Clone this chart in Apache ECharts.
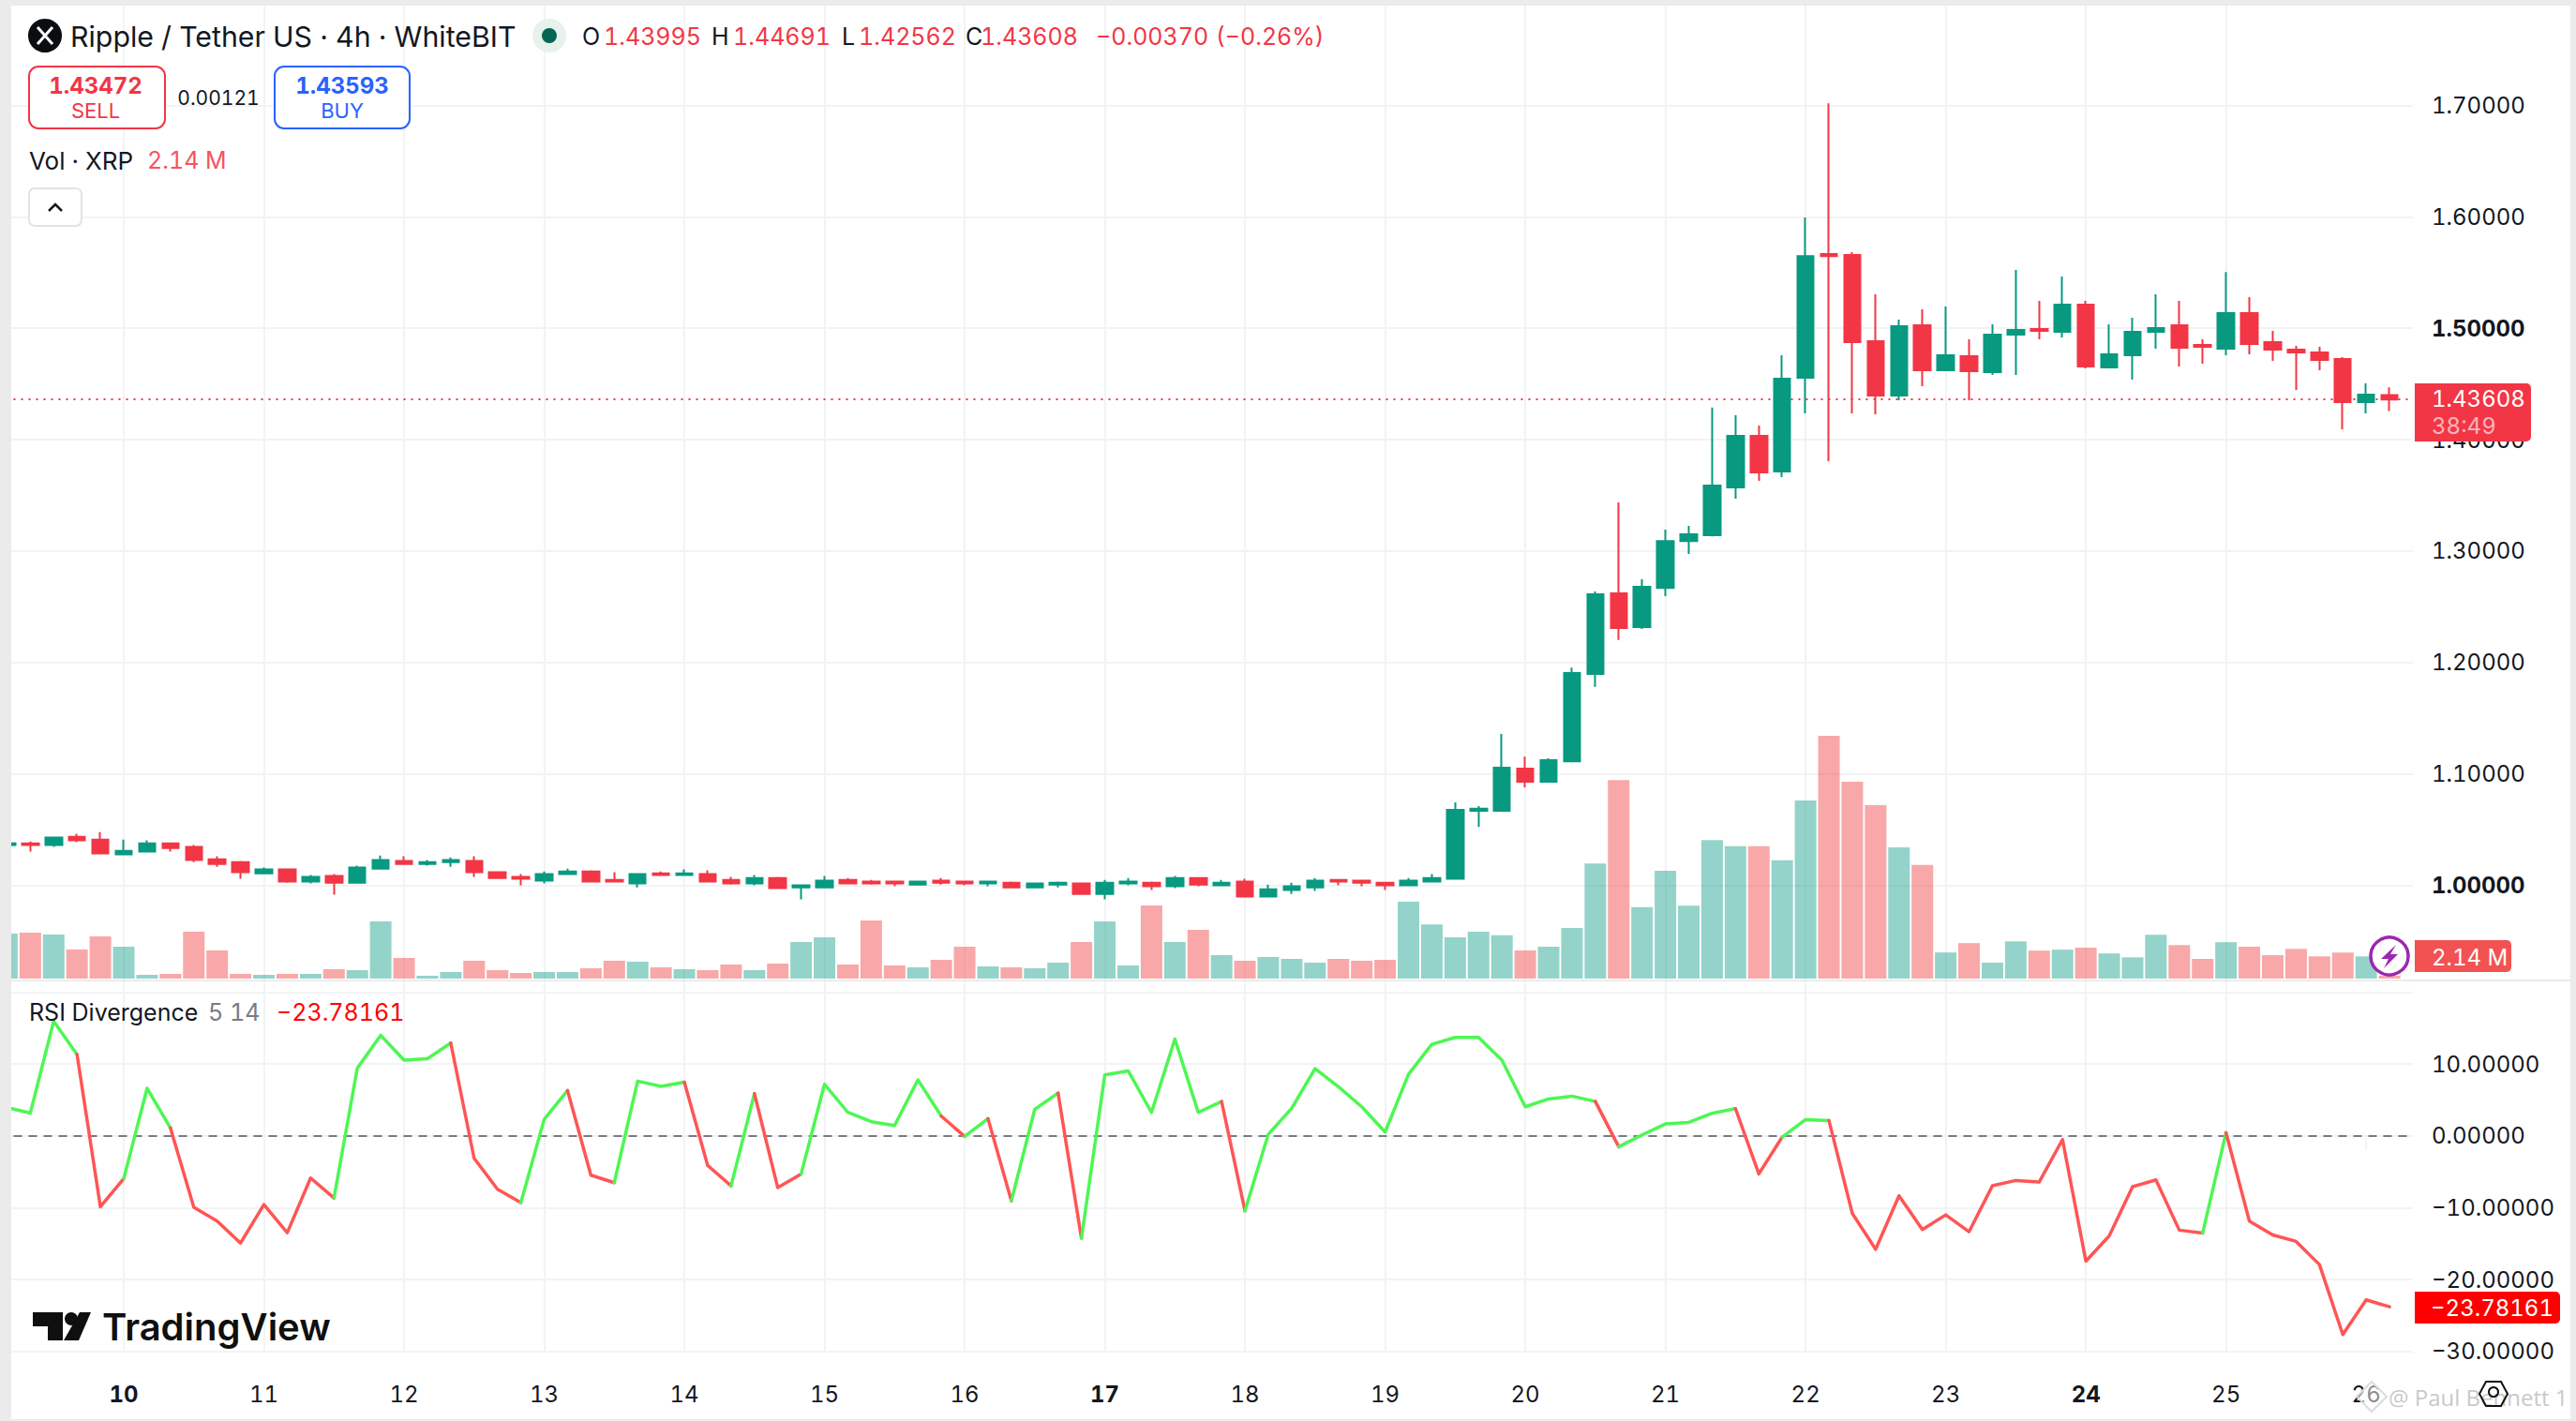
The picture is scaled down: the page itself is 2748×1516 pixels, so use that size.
<!DOCTYPE html>
<html>
<head>
<meta charset="utf-8">
<style>html,body{margin:0;padding:0;background:#fff;overflow:hidden}#c{width:2748px;height:1516px}#c text{font-variant-numeric:tabular-nums !important;font-feature-settings:'tnum' 1 !important}</style>
<script src="https://cdn.jsdelivr.net/npm/echarts@6/dist/echarts.min.js"></script>
</head>
<body>
<div id="c"></div>
<script>
// 4h candles, first one at 9th 04:00
const opens = [
1.0362,1.0378,1.0362,1.0437,1.0412,1.0278,1.0303,1.0378,1.0345,1.0235,
1.0210,1.0109,1.0143,1.0034,1.0084,1.0025,1.0151,1.0219,1.0193,1.0210,
1.0219,1.0118,1.0076,1.0042,1.0101,1.0126,1.0050,1.0017,1.0109,1.0093,
1.0101,1.0050,1.0017,1.0067,0.9983,0.9983,1.0050,1.0034,1.0034,1.0008,
1.0042,1.0034,1.0017,1.0025,0.9983,1.0008,1.0017,0.9924,1.0017,1.0025,
0.9992,1.0067,1.0000,1.0034,0.9899,0.9958,0.9983,1.0050,1.0042,1.0025,
1.0000,1.0034,1.0060,1.0670,1.0670,1.1048,1.0931,1.1114,1.1898,1.2622,
1.2319,1.2670,1.3091,1.3142,1.3571,1.4034,1.3714,1.4555,1.5665,1.5657,
1.4883,1.4395,1.5026,1.4622,1.4749,1.4606,1.4942,1.4992,1.4967,1.5211,
1.4648,1.4757,1.4967,1.5026,1.4850,1.4816,1.5135,1.4875,1.4807,1.4782,
1.4723,1.4336,1.43995];
const closes = [
1.0378,1.0362,1.0429,1.0404,1.0286,1.0311,1.0378,1.0336,1.0227,1.0193,
1.0118,1.0143,1.0034,1.0076,1.0025,1.0160,1.0227,1.0193,1.0210,1.0227,
1.0118,1.0067,1.0059,1.0101,1.0126,1.0034,1.0034,1.0101,1.0093,1.0109,
1.0034,1.0017,1.0067,0.9975,1.0000,1.0042,1.0017,1.0017,1.0017,1.0034,
1.0025,1.0017,1.0034,0.9983,1.0017,1.0025,0.9924,1.0025,1.0034,0.9992,
1.0067,1.0008,1.0025,0.9899,0.9966,0.9992,1.0042,1.0034,1.0025,1.0000,
1.0042,1.0067,1.0679,1.0688,1.1057,1.0931,1.1123,1.1907,1.2613,1.2310,
1.2679,1.3091,1.3151,1.3589,1.4034,1.3706,1.4547,1.5648,1.5648,1.4875,
1.4395,1.5018,1.4622,1.4757,1.4614,1.4942,1.4984,1.4976,1.5211,1.4656,
1.4765,1.4967,1.5001,1.4824,1.4833,1.5135,1.4858,1.4807,1.4782,1.4715,
1.4336,1.4404,1.43608];
const lows = [
1.0362,1.0303,1.0345,1.0387,1.0286,1.0278,1.0303,1.0303,1.0210,1.0168,
1.0059,1.0101,1.0025,1.0017,0.9916,1.0017,1.0151,1.0193,1.0177,1.0168,
1.0076,1.0059,1.0000,1.0017,1.0093,1.0034,1.0034,0.9983,1.0084,1.0093,
1.0034,1.0008,1.0000,0.9975,0.9874,0.9975,1.0017,1.0008,0.9992,1.0000,
1.0008,1.0000,0.9992,0.9975,0.9983,0.9983,0.9916,0.9874,1.0000,0.9958,
0.9975,0.9992,0.9992,0.9891,0.9899,0.9924,0.9950,1.0000,0.9992,0.9958,
0.9992,1.0034,1.0060,1.0525,1.0670,1.0880,1.0931,1.1114,1.1781,1.2202,
1.2301,1.2595,1.2974,1.3133,1.3470,1.3630,1.3664,1.4235,1.3807,1.4235,
1.4227,1.4353,1.4479,1.4622,1.4353,1.4580,1.4580,1.4900,1.4917,1.4639,
1.4648,1.4538,1.4816,1.4656,1.4681,1.4757,1.4765,1.4706,1.4446,1.4622,
1.4093,1.4235,1.42562];
const highs = [
1.0378,1.0395,1.0437,1.0463,1.0479,1.0412,1.0404,1.0378,1.0362,1.0261,
1.0219,1.0160,1.0151,1.0093,1.0101,1.0177,1.0269,1.0261,1.0227,1.0252,
1.0261,1.0126,1.0101,1.0126,1.0151,1.0135,1.0118,1.0101,1.0126,1.0143,
1.0135,1.0076,1.0093,1.0076,1.0008,1.0084,1.0067,1.0050,1.0034,1.0042,
1.0067,1.0042,1.0034,1.0034,1.0017,1.0034,1.0025,1.0050,1.0067,1.0034,
1.0084,1.0067,1.0050,1.0059,1.0008,1.0025,1.0067,1.0050,1.0042,1.0025,
1.0067,1.0101,1.0745,1.0712,1.1360,1.1156,1.1141,1.1955,1.2637,1.3436,
1.2748,1.3193,1.3226,1.4289,1.4219,1.4126,1.4757,1.5993,1.7019,1.5682,
1.5304,1.5077,1.5169,1.5194,1.4900,1.5034,1.5522,1.5245,1.5463,1.5245,
1.5034,1.5093,1.5304,1.5245,1.4900,1.5505,1.5278,1.4976,1.4841,1.4833,
1.4740,1.4505,1.44691];
// volume in millions of XRP
const volumes = [
33.6,34.3,32.9,21.7,31.5,23.8,2.8,3.5,35.0,21.0,
3.5,2.8,3.5,3.5,7.0,6.3,42.7,15.4,2.1,4.9,
13.3,6.3,4.2,4.9,4.9,7.7,13.3,12.6,8.4,7.0,
6.3,10.5,6.3,11.2,27.3,30.8,10.5,43.4,9.8,8.4,
14.0,23.8,9.1,8.4,7.7,11.9,27.3,42.7,9.8,54.6,
27.3,36.4,17.5,13.3,16.1,14.7,11.9,14.7,13.3,14.0,
57.4,40.5,30.8,35.0,32.3,21.0,23.8,37.8,86.0,148.3,
53.3,80.5,54.5,103.5,98.8,98.8,88.3,133.0,181.3,147.0,
129.5,98.0,84.8,19.5,26.5,11.9,27.8,20.9,21.6,23.1,
18.8,15.9,32.8,25.0,14.7,27.2,23.8,17.5,22.2,16.6,
19.4,16.6,2.14];
const rsi = [
3.95,3.17,15.95,11.30,-9.87,-5.95,6.61,1.09,-9.95,-11.86,
-14.91,-9.56,-13.47,-5.87,-8.65,9.43,13.99,10.52,10.73,12.91,
-3.13,-7.43,-9.30,2.30,6.30,-5.48,-6.52,7.61,6.87,7.47,
-4.13,-6.95,5.87,-7.21,-5.30,7.17,3.26,1.96,1.43,7.78,
2.74,-0.09,2.39,-9.04,3.69,5.95,-14.25,8.47,9.04,3.26,
13.47,3.26,4.78,-10.43,0.22,3.82,9.34,6.82,4.04,0.52,
8.56,12.73,13.69,13.69,10.52,4.04,5.13,5.52,4.78,-1.52,
0.13,1.65,1.87,3.13,3.78,-5.30,-0.17,2.26,2.13,-10.78,
-15.78,-8.34,-13.04,-11.00,-13.34,-6.95,-6.21,-6.43,-0.52,-17.43,
-13.91,-7.08,-6.13,-13.12,-13.52,0.43,-11.86,-13.78,-14.69,-17.91,
-27.64,-22.82,-23.78161];
const lastPrice = 1.43608;
const boldDays = [10,17,24];
const boldPrices = ['1.00000','1.50000'];
const hiddenPriceTicks = ['0.90000','1.80000'];
const firstDay = 9;
const candlesPerDay = 6;

const GREEN='#089981', RED='#f23645', VOLG='rgba(8,153,129,0.43)', VOLR='rgba(242,82,82,0.5)';
const GRID='#f2f3f4', INK='#131722', FONT='Inter, "Noto Sans", sans-serif';
const LINEG='#4df753', LINER='#ff5555';

// category axis: 9th 00:00 ... 26th 08:00, one slot before and after the candles
const categories = [];
for (let i = 0; i < opens.length + 2; i++) {
  const d = firstDay + Math.floor(i / candlesPerDay), h = (i % candlesPerDay) * 4;
  categories.push(d + ' ' + String(h).padStart(2,'0') + ':00');
}
const isDay = (i) => i % candlesPerDay === 0;
const pad = (a) => [null].concat(a, [null]);

const candleData = [['-','-','-','-']]
  .concat(opens.map((o,i)=>[o,closes[i],lows[i],highs[i]]))
  .concat([['-','-','-','-']]);
const volData = pad(volumes.map((v,i)=>({
  value:v, itemStyle:{color: closes[i]>=opens[i] ? VOLG : VOLR}
})));

// RSI line: a segment is green if it ends at or above zero, red otherwise
const rsiRuns = [];
(function(){
  let start = 0;
  const col = (i)=> rsi[i] >= 0 ? LINEG : LINER;
  for (let i = 1; i < rsi.length; i++) {
    if (i === rsi.length-1 || col(i+1) !== col(i)) {
      const d = new Array(categories.length).fill(null);
      for (let k = start; k <= i; k++) d[k+1] = rsi[k];
      rsiRuns.push({type:'line', xAxisIndex:2, yAxisIndex:2, data:d, showSymbol:false, symbol:'none',
        lineStyle:{color:col(i), width:3.5, join:'round', cap:'round'}, z:3, silent:true, connectNulls:false});
      start = i;
    }
  }
})();

const L=-17.5, W=2591.5;
function xAxis(gridIndex, showLabel){
  return {type:'category', gridIndex, data:categories, boundaryGap:false,
    axisLine:{show:false},
    axisTick:{show:showLabel, interval:(i)=>isDay(i), length:15, lineStyle:{color:GRID,width:2}},
    splitLine:{show:gridIndex!==1, interval:(i)=>isDay(i), lineStyle:{color:GRID,width:2}, showMinLine:false, showMaxLine:false},
    axisLabel:{show:showLabel, margin:34, fontSize:24, fontFamily:FONT, color:INK, interval:(i)=>isDay(i),
      formatter:(v,i)=>{ if(i===0) return ''; const d=v.split(' ')[0]; return boldDays.includes(+d)?'{b|'+d+'}':d; },
      rich:{b:{fontWeight:'bold',fontSize:24,fontFamily:FONT,color:INK}}}};
}
const R=[];
function t(text,x,y,size,fill,extra){
  R.push({type:'text',z:100,style:{text,x,y,font:(extra&&extra.weight||'normal')+' '+size+'px '+(extra&&extra.family||FONT),fill,
    verticalAlign:'middle',align:(extra&&extra.align)||'left'}});
}
function rr(x,y,w,h,r,fill,stroke,lw,z){
  R.push({type:'rect',z:z||99,shape:{x,y,width:w,height:h,r},style:{fill,stroke,lineWidth:lw||0}});
}
// frame
const FR='#ebebeb';
rr(0,0,12,1516,0,FR,null,0,98); rr(0,0,2748,6,0,FR,null,0,98);
rr(2742,0,6,1516,0,FR,null,0,98); rr(0,1514,2748,2,0,FR,null,0,98);
rr(12,1045,2730,2,0,'#ebebeb',null,0,90);
// header
R.push({type:'circle',z:100,shape:{cx:48,cy:38,r:18},style:{fill:'#0b0e11'}});
R.push({type:'line',z:101,shape:{x1:40,y1:29,x2:56,y2:47},style:{stroke:'#fff',lineWidth:3}});
R.push({type:'line',z:101,shape:{x1:56,y1:29,x2:40,y2:47},style:{stroke:'#fff',lineWidth:3}});
t('Ripple / Tether US · 4h · WhiteBIT',75,39,30.3,INK);
rr(568,20,36,36,18,'#e6f2ea',null,0,100);
R.push({type:'circle',z:101,shape:{cx:586,cy:38,r:8},style:{fill:'#056656'}});
const ohlcY=39, ohlcS=25;
t('O',621,ohlcY,ohlcS,INK); t('1.43995',644,ohlcY,ohlcS,RED);
t('H',759,ohlcY,ohlcS,INK); t('1.44691',782,ohlcY,ohlcS,RED);
t('L',898,ohlcY,ohlcS,INK); t('1.42562',916,ohlcY,ohlcS,RED);
t('C',1030,ohlcY,ohlcS,INK); t('1.43608',1046,ohlcY,ohlcS,RED);
t('−0.00370',1169,ohlcY,ohlcS,RED); t('(−0.26%)',1297,ohlcY,ohlcS,RED);
// sell / buy
rr(31,71,145,66,10,'#fff',RED,2,100);
t('1.43472',102,91,24,RED,{weight:'bold',align:'center'}); t('SELL',102,118,22,RED,{align:'center'});
t('0.00121',233,104,21,INK,{align:'center'});
rr(293,71,144,66,10,'#fff','#2962ff',2,100);
t('1.43593',365,91,24,'#2962ff',{weight:'bold',align:'center'}); t('BUY',365,118,22,'#2962ff',{align:'center'});
t('Vol · XRP',31,171,26,INK); t('2.14 M',157,171,25,'#f7525f');
rr(31,201,56,40,6,'#fff','#e0e3eb',2,100);
R.push({type:'polyline',z:101,shape:{points:[[52,225],[59,218],[66,225]]},style:{stroke:INK,lineWidth:2.5,fill:'none'}});
// rsi legend
t('RSI Divergence',31,1080,25,INK); t('5 14',222,1080,25,'#787b86'); t('−23.78161',295,1080,25,'#ff0000');
// tradingview logo
R.push({type:'polygon',z:100,shape:{points:[[35,1400],[67,1400],[67,1430],[51,1430],[51,1415],[35,1415]]},style:{fill:'#0f0f0f'}});
R.push({type:'circle',z:100,shape:{cx:76,cy:1407,r:7},style:{fill:'#0f0f0f'}});
R.push({type:'polygon',z:100,shape:{points:[[85,1400],[97,1400],[84,1430],[68,1430]]},style:{fill:'#0f0f0f'}});
t('TradingView',109,1415,40,'#0f0f0f',{weight:'600'});
// price tags
rr(2576,409,124,62,[0,5,5,0],RED,null,0,100);
t('1.43608',2594,425,24,'#fff'); t('38:49',2594,454,24,'rgba(255,255,255,0.65)');
rr(2576,1003,103,34,[0,5,5,0],'#f25252',null,0,100);
t('2.14 M',2594,1021,24,'#fff');
R.push({type:'circle',z:100,shape:{cx:2549,cy:1020,r:20},style:{fill:'#fff',stroke:'#9c27b0',lineWidth:3.5}});
R.push({type:'polygon',z:101,shape:{points:[[2556,1008],[2540,1023],[2548,1023],[2543,1033],[2558,1018],[2550,1018]]},style:{fill:'#9c27b0'}});
rr(2576,1378,155,34,[0,5,5,0],'#ff0000',null,0,100);
t('−23.78161',2593,1395,24,'#fff');
// watermark and corner icons
R.push({type:'polygon',z:100,shape:{points:[[2530,1474],[2546,1490],[2530,1506],[2514,1490]]},style:{fill:'rgba(255,255,255,0.5)',stroke:'#dcdcdc',lineWidth:2}});
t('@ Paul Bennett 1',2548,1490,24,'#c9c9c9',{family:'"Open Sans"'});
R.push({type:'polygon',z:101,shape:{points:[[2652,1474],[2668,1474],[2675,1487],[2668,1500],[2652,1500],[2645,1487]]},style:{fill:'none',stroke:'#111',lineWidth:2}});
R.push({type:'circle',z:101,shape:{cx:2660,cy:1485,r:5},style:{fill:'none',stroke:'#111',lineWidth:2}});

const option = {
  animation:false, backgroundColor:'#fff', textStyle:{fontFamily:FONT},
  grid:[
    {left:L, width:W, top:-6.5, height:1070, outerBoundsMode:'none'},
    {left:L, width:W, top:6, height:1038, outerBoundsMode:'none'},
    {left:L, width:W, top:1058.35, height:383.5, outerBoundsMode:'none'}
  ],
  xAxis:[xAxis(0,false), xAxis(1,false), xAxis(2,true)],
  yAxis:[
    {type:'value', gridIndex:0, position:'right', min:0.9, max:1.8, interval:0.1, scale:true,
      axisLine:{show:false}, axisTick:{show:false},
      splitLine:{lineStyle:{color:GRID,width:2}, showMinLine:false, showMaxLine:false},
      axisLabel:{margin:20, fontSize:24, fontFamily:FONT, color:INK, align:'left',
        formatter:(v)=>{const s=v.toFixed(5); if(hiddenPriceTicks.includes(s)) return ''; return boldPrices.includes(s)?'{b|'+s+'}':s;},
        rich:{b:{fontWeight:'bold',fontSize:24,fontFamily:FONT,color:INK}}}},
    {type:'value', gridIndex:1, position:'right', min:0, max:726.6, show:false, splitLine:{show:false}},
    {type:'value', gridIndex:2, position:'right', min:-30, max:20, interval:10,
      axisLine:{show:false}, axisTick:{show:false},
      splitLine:{lineStyle:{color:GRID,width:2}},
      axisLabel:{margin:20, fontSize:24, fontFamily:FONT, color:INK, align:'left',
        formatter:(v)=> v===20 ? '' : (v<0?'−':'')+Math.abs(v).toFixed(5)}}
  ],
  series:[
    {type:'bar', name:'Vol', xAxisIndex:1, yAxisIndex:1, data:volData, barWidth:23, z:1, silent:true},
    {type:'candlestick', name:'XRPUSDT', xAxisIndex:0, yAxisIndex:0, data:candleData, barWidth:18, z:3, silent:true,
      itemStyle:{color:GREEN,color0:RED,borderColor:GREEN,borderColor0:RED,borderWidth:2},
      markLine:{silent:true,symbol:'none',precision:5,label:{show:false},animation:false,z:2,
        lineStyle:{color:RED,type:[2,6],width:2},data:[{yAxis:lastPrice}]}},
    {type:'line', name:'Zero', xAxisIndex:2, yAxisIndex:2, data:[], symbol:'none', silent:true,
      markLine:{silent:true,symbol:'none',label:{show:false},animation:false,z:2,
        lineStyle:{color:'#787b86',type:[9,7],width:2},data:[{yAxis:0}]}}
  ].concat(rsiRuns),
  graphic:{elements:R}
};
const chart = echarts.init(document.getElementById('c'), null, {renderer:'svg', width:2748, height:1516});
chart.setOption(option);
</script>
</body>
</html>
